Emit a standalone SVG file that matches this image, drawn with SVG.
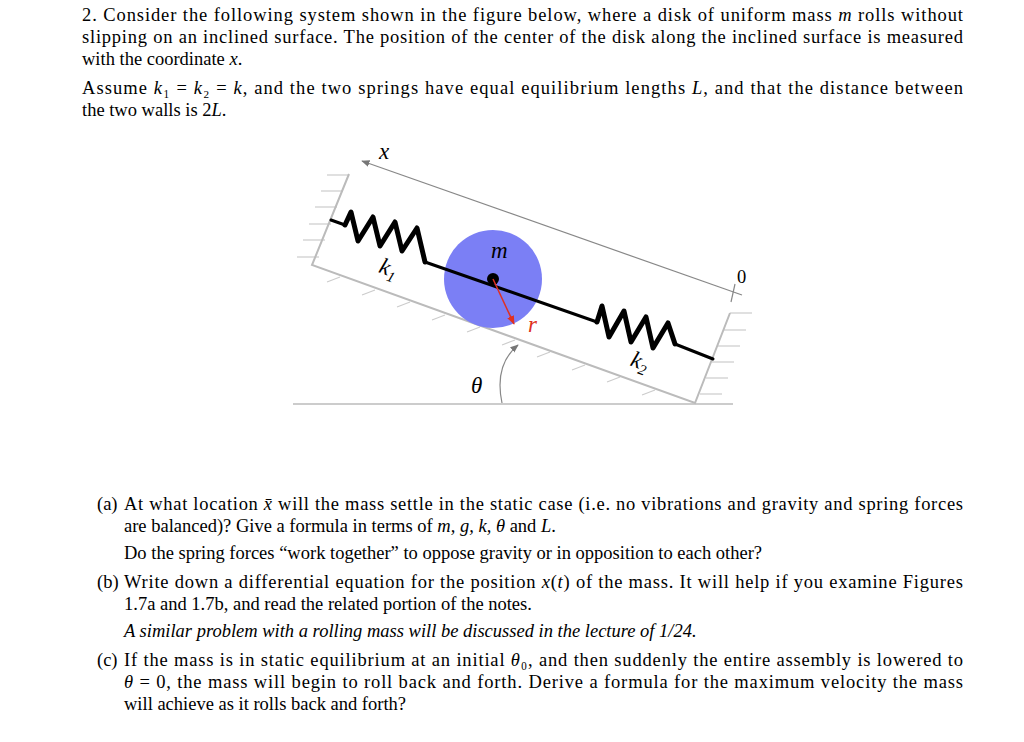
<svg xmlns="http://www.w3.org/2000/svg" width="1024" height="742" viewBox="0 0 1024 742">
<style>
text{font-family:"Liberation Serif","DejaVu Serif",serif;font-size:18.5px;fill:#000}
.i{font-style:italic}
.lbl{font-size:23px;font-style:italic}
.g{stroke:#bbb;stroke-width:2;fill:none}
.h{stroke:#ccc;stroke-width:1.2}
</style>
<defs>
<marker id="ag" viewBox="0 0 10 10" refX="9" refY="5" markerWidth="7" markerHeight="7" orient="auto"><path d="M0,1 L10,5 L0,9 z" fill="#777"/></marker>
<marker id="ar" viewBox="0 0 10 10" refX="9" refY="5" markerWidth="6" markerHeight="6" orient="auto"><path d="M0,1 L10,5 L0,9 z" fill="#e03020"/></marker>
</defs>
<rect width="1024" height="742" fill="#fff"/>
<g id="text">
<text x="82" y="21" textLength="881" lengthAdjust="spacing">2. Consider the following system shown in the figure below, where a disk of uniform mass <tspan class="i">m</tspan> rolls without</text>
<text x="82" y="43" textLength="881" lengthAdjust="spacing">slipping on an inclined surface. The position of the center of the disk along the inclined surface is measured</text>
<text x="82" y="65">with the coordinate <tspan class="i">x</tspan>.</text>
<text x="82" y="94" textLength="881" lengthAdjust="spacing">Assume <tspan class="i">k</tspan>₁ = <tspan class="i">k</tspan>₂ = <tspan class="i">k</tspan>, and the two springs have equal equilibrium lengths <tspan class="i">L</tspan>, and that the distance between</text>
<text x="82" y="116">the two walls is 2<tspan class="i">L</tspan>.</text>
<text x="97" y="510">(a)</text>
<text x="124" y="510" textLength="839" lengthAdjust="spacing">At what location <tspan class="i">x̄</tspan> will the mass settle in the static case (i.e. no vibrations and gravity and spring forces</text>
<text x="124" y="532">are balanced)? Give a formula in terms of <tspan class="i">m, g, k, θ</tspan> and <tspan class="i">L</tspan>.</text>
<text x="124" y="559">Do the spring forces “work together” to oppose gravity or in opposition to each other?</text>
<text x="97" y="588">(b)</text>
<text x="124" y="588" textLength="839" lengthAdjust="spacing">Write down a differential equation for the position <tspan class="i">x</tspan>(<tspan class="i">t</tspan>) of the mass. It will help if you examine Figures</text>
<text x="124" y="610">1.7a and 1.7b, and read the related portion of the notes.</text>
<text x="124" y="637" class="i">A similar problem with a rolling mass will be discussed in the lecture of 1/24.</text>
<text x="97" y="666">(c)</text>
<text x="124" y="666" textLength="839" lengthAdjust="spacing">If the mass is in static equilibrium at an initial <tspan class="i">θ</tspan>₀, and then suddenly the entire assembly is lowered to</text>
<text x="124" y="688" textLength="839" lengthAdjust="spacing"><tspan class="i">θ</tspan> = 0, the mass will begin to roll back and forth. Derive a formula for the maximum velocity the mass</text>
<text x="124" y="710">will achieve as it rolls back and forth?</text>
</g>
<g id="ground">
<line x1="293" y1="404" x2="733" y2="404" stroke="#bbb" stroke-width="1.5"/>
<g class="h">
<line x1="349" y1="175" x2="327" y2="175"/><line x1="343" y1="191" x2="321" y2="191"/><line x1="337" y1="207" x2="315" y2="207"/><line x1="331" y1="224" x2="309" y2="224"/><line x1="325" y1="240" x2="303" y2="240"/><line x1="319" y1="257" x2="297" y2="257"/>
<line x1="730" y1="313" x2="752" y2="313"/><line x1="724" y1="330" x2="746" y2="330"/><line x1="718" y1="346" x2="740" y2="346"/><line x1="712" y1="362" x2="734" y2="362"/><line x1="706" y1="378" x2="728" y2="378"/><line x1="700" y1="394" x2="722" y2="394"/>
<line x1="340" y1="277" x2="327" y2="282"/><line x1="375" y1="290" x2="362" y2="295"/><line x1="410" y1="302" x2="397" y2="307"/><line x1="445" y1="315" x2="432" y2="320"/><line x1="480" y1="327" x2="467" y2="332"/><line x1="515" y1="340" x2="502" y2="345"/><line x1="550" y1="352" x2="537" y2="357"/><line x1="585" y1="365" x2="572" y2="370"/><line x1="620" y1="377" x2="607" y2="382"/><line x1="655" y1="390" x2="642" y2="395"/>
</g>
<path class="g" d="M349,174 L312,265 L695,403 L730,313"/>
</g>
<g id="connectors">
<line x1="742" y1="295" x2="362" y2="161" stroke="#888" stroke-width="1.2" marker-end="url(#ag)"/>
<line x1="735" y1="284" x2="731" y2="302" stroke="#888" stroke-width="1.2"/>
<path d="M502,403 Q494,365 518,345" stroke="#888" stroke-width="1.2" fill="none" marker-end="url(#ag)"/>
</g>
<g id="disk">
<circle cx="493" cy="279" r="49" fill="#7b7ff5"/>
</g>
<g id="springs" stroke="#000" fill="none" stroke-linecap="round" stroke-linejoin="round">
<path d="M331,220 L345,225" stroke-width="3"/>
<path d="M345,225 L351,212 L358,241 L373,217 L380,246 L395,222 L402,251 L417,228 L425,262" stroke-width="5"/>
<path d="M425,262 L597,322" stroke-width="3"/>
<path d="M597,322 L602,306 L609,337 L624,311 L631,342 L646,317 L653,348 L668,323 L675,344" stroke-width="5"/>
<path d="M675,344 L713,359" stroke-width="3"/>
</g>
<g id="radius">
<circle cx="493" cy="279" r="6" fill="#000"/>
<line x1="493" y1="279" x2="514" y2="324" stroke="#e03020" stroke-width="1.5" marker-end="url(#ar)"/>
</g>
<g id="labels">
<text x="379" y="159" class="lbl">x</text>
<text x="491" y="258" class="lbl">m</text>
<text x="380" y="276" class="lbl" transform="rotate(20 390 268)">k<tspan font-size="15" dy="5">1</tspan></text>
<text x="631" y="369" class="lbl" transform="rotate(20 641 362)">k<tspan font-size="15" dy="5">2</tspan></text>
<text x="528" y="332" class="lbl" style="fill:#e03020">r</text>
<text x="471" y="393" class="lbl">θ</text>
<text x="737" y="283" font-size="19">0</text>
</g>
</svg>
